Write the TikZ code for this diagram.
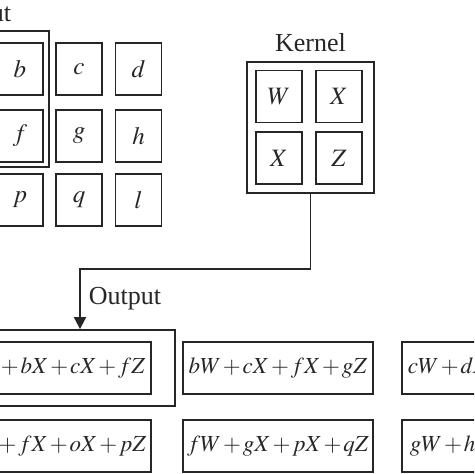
\documentclass[tikz,border=0pt]{standalone}
\usepackage{mathptmx}
\usepackage{fontspec}
\setmainfont{Liberation Serif}
\usetikzlibrary{shapes,arrows.meta,positioning}

\begin{document}
\begin{tikzpicture}[x=0.5pt,y=-0.5pt,color=black!85,line width=0.9pt,
  cell/.style={draw,minimum width=23pt,minimum height=26pt,inner sep=0pt,font=\fontsize{12.5}{15}\selectfont},
  sum/.style={draw,minimum width=95pt,minimum height=26pt,inner sep=0pt,font=\fontsize{11.5}{14}\selectfont,
    execute at begin node={\medmuskip=1.5mu}},
  lbl/.style={inner sep=0pt,font=\fontsize{13}{16}\selectfont}]
\useasboundingbox (0,0) rectangle (474,474);
\clip (0,0) rectangle (474,474);
% input
\node (win) [draw,minimum width=58.5pt,minimum height=68pt] at (-9.5,99) {};
\node [lbl,anchor=base east] (inlbl) at (12,22) {Input};
\node [cell] (b) at (20,69) {$b$};
\node [cell] (c) at (79,69) {$c$};
\node [cell] (d) at (138.5,69) {$d$};
\node [cell] (f) at (20,136) {$f$};
\node [cell] (g) at (79,136) {$g$};
\node [cell] (h) at (138.5,136) {$h$};
\node [cell] (p) at (20,200) {$p$};
\node [cell] (q) at (79,200) {$q$};
\node [cell] (l) at (138.5,200) {$l$};
% kernel
\node (kbox) [draw,minimum width=63.5pt,minimum height=65.5pt] at (310.5,127.5) {};
\node [lbl,anchor=base] (klbl) at (310.5,52) {Kernel};
\node [cell] (k1) at (279,96.5) {$W$};
\node [cell] (k2) at (339,96.5) {$X$};
\node [cell] (k3) at (279,158) {$X$};
\node [cell] (k4) at (339,158) {$Z$};
% output
\node (obox) [draw,minimum width=117.5pt,minimum height=38pt] at (57.5,368) {};
\node [lbl,anchor=base west] (olbl) at (88,305) {Output};
\node [sum] (o1) at (56,368) {$aW+bX+cX+fZ$};
\node [sum] (o2) at (278,368) {$bW+cX+fX+gZ$};
\node [sum] (o3) at (497,368) {$cW+dX+gX+hZ$};
\node [sum] (o4) at (56,446) {$eW+fX+oX+pZ$};
\node [sum] (o5) at (278,446) {$fW+gX+pX+qZ$};
\node [sum] (o6) at (497,446) {$gW+hX+qX+lZ$};
\coordinate (bend) at (80,269);
\draw [-{Triangle[width=6pt,length=6pt]}] (kbox.south) |- (bend) -- (bend |- obox.north);
\end{tikzpicture}
\end{document}
